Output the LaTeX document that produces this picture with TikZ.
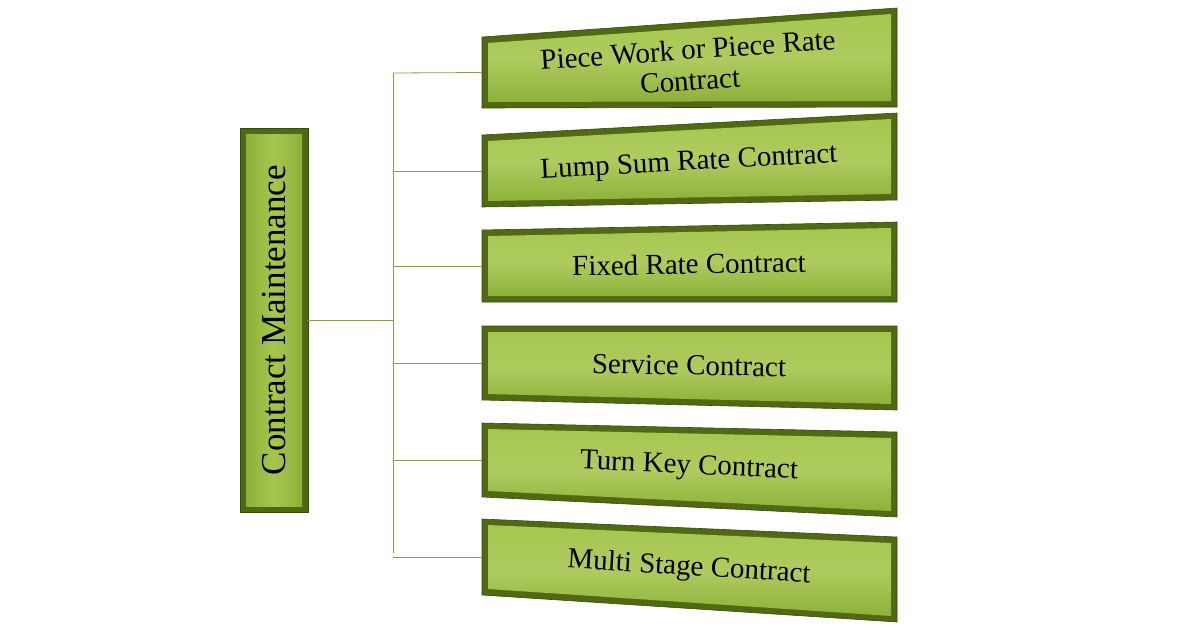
\documentclass[tikz,border=0pt]{standalone}
\usepackage{fontspec}
\setmainfont{Liberation Serif}
\begin{document}
\begin{tikzpicture}[x=1pt,y=-1pt,
  conn/.style={draw=olive!70!black!70, line width=0.8pt},
  lbl/.style={font=\fontsize{29}{31}\selectfont, align=center, text=black}]
\useasboundingbox (0,0) rectangle (1200,630);
\definecolor{edge}{HTML}{4F6A12}
\definecolor{midg}{HTML}{8EB13A}
\definecolor{lig}{HTML}{A6C64E}
\newcommand{\gbox}[7]{%
  \fill[edge] (482,#1) -- (897,#3) -- (897,#4) -- (482,#2) -- cycle;
  \shade[top color=lig, bottom color=midg, middle color=lig!90!white]
    (488,#1+6) -- (891,#3+6) -- (891,#4-6) -- (488,#2-6) -- cycle;
  \draw[edge!70!black, line width=0.6pt] (482,#1) -- (897,#3) -- (897,#4) -- (482,#2) -- cycle;
  \coordinate (#5) at (482,{(#1+#2)/2});
  \node[lbl, rotate=#7] at (689,{(#1+#2+#3+#4)/4}) {#6};
}
\gbox{37}{108}{8}{107}{b1}{Piece Work or Piece Rate\\Contract}{4}
\gbox{135}{207}{113}{200}{b2}{Lump Sum Rate Contract}{3}
\gbox{230}{302}{222}{302}{b3}{Fixed Rate Contract}{1}
\gbox{326}{400}{326}{410}{b4}{Service Contract}{-1}
\gbox{423}{497}{432}{517}{b5}{Turn Key Contract}{-2.5}
\gbox{519}{595}{537}{622}{b6}{Multi Stage Contract}{-3.5}
\fill[edge] (240,128) rectangle (308,512);
\shade[left color=midg, right color=midg, middle color=lig] (246,134) rectangle (302,506);
\draw[edge!70!black, line width=0.6pt] (240,128) rectangle (308,512);
\node[lbl, font=\fontsize{35}{38}\selectfont, rotate=90] (cm) at (274,320) {Contract Maintenance};
\coordinate (cmr) at (308,320);
\coordinate (j) at (393,320);
\draw[conn] (cmr) -- (j);
\draw[conn] (393,73) -- (393,553);
\foreach \b/\y in {b1/73,b2/171,b3/266,b4/363,b5/460,b6/557}
  \draw[conn] (393,\y) -- (\b);
\end{tikzpicture}
\end{document}
